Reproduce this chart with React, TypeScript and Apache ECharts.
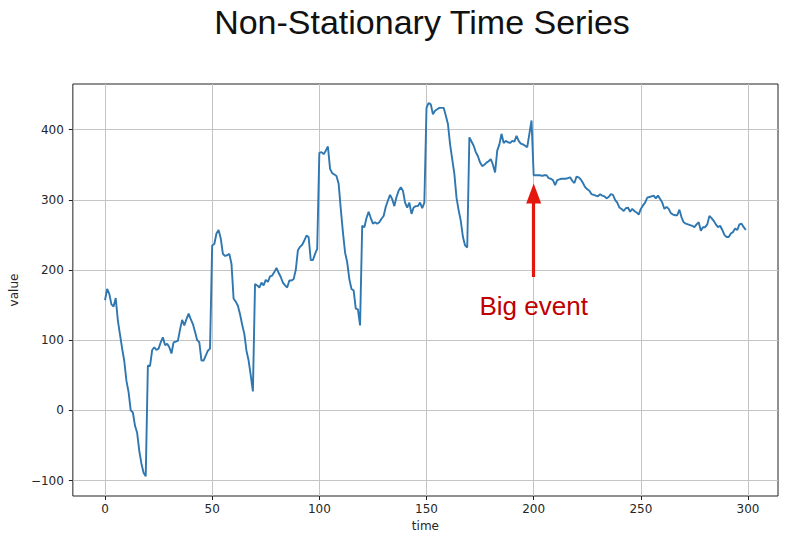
import React, { useEffect, useRef } from 'react';
import * as echarts from 'echarts';
import type { EChartsOption } from 'echarts';

// values, one per time step (0..299)
const values: number[] = [
  157, 173, 166, 151, 148, 160, 128, 108, 88, 70,
  42, 26, 0, -3, -22, -32, -58, -76, -89, -94,
  64, 63, 86, 90, 86, 88, 97, 104, 93, 95,
  90, 81, 97, 98, 99, 115, 129, 121, 130, 138,
  130, 123, 112, 100, 97, 71, 71, 78, 85, 88,
  235, 237, 252, 257, 245, 223, 220, 221, 223, 209,
  159, 155, 149, 137, 122, 109, 85, 71, 50, 27,
  180, 178, 175, 182, 178, 186, 183, 191, 192, 197,
  203, 196, 190, 182, 178, 175, 185, 185, 187, 200,
  228, 233, 236, 242, 249, 247, 214, 214, 223, 230,
  367, 368, 365, 370, 376, 344, 338, 336, 334, 323,
  287, 254, 225, 211, 187, 173, 171, 145, 144, 121,
  263, 261, 274, 283, 274, 266, 268, 266, 268, 273,
  277, 290, 299, 307, 301, 291, 304, 313, 318, 313,
  296, 289, 296, 280, 289, 291, 291, 296, 288, 296,
  431, 438, 436, 422, 427, 429, 431, 431, 431, 420,
  408, 379, 358, 337, 303, 285, 270, 247, 235, 232,
  389, 383, 377, 368, 362, 353, 348, 350, 353, 355,
  358, 350, 339, 370, 379, 394, 381, 384, 382, 381,
  384, 383, 391, 384, 380, 379, 377, 375, 394, 413,
  335, 335, 335, 335, 334, 335, 335, 331, 330, 328,
  321, 328, 329, 330, 330, 330, 331, 332, 327, 324,
  333, 332, 329, 324, 318, 315, 313, 308, 307, 306,
  305, 308, 306, 305, 302, 304, 308, 307, 300, 296,
  289, 287, 284, 288, 289, 283, 287, 284, 282, 279,
  287, 292, 296, 303, 304, 305, 306, 302, 306, 301,
  296, 287, 290, 287, 281, 279, 278, 278, 286, 275,
  268, 266, 265, 264, 263, 261, 265, 268, 256, 261,
  261, 265, 277, 274, 270, 265, 261, 263, 257, 250,
  247, 247, 252, 254, 259, 257, 265, 266, 261, 257,
];
const times: number[] = values.map((_, i) => i);

const xTicks = [0, 50, 100, 150, 200, 250, 300];
const yTicks = [-100, 0, 100, 200, 300, 400];

const eventTime = 200;
const eventFrom = 190; // arrow tail (value units)
const eventTo = 309; // arrow head centre
const eventLabel = 'Big event';

const tickFont = { fontFamily: 'DejaVu Sans', fontSize: 12, color: '#262626' };

const App: React.FC = () => {
  const chartRef = useRef<HTMLDivElement>(null);

  useEffect(() => {
    if (!chartRef.current) return;
    const chart = echarts.init(chartRef.current, undefined, { renderer: 'svg' });

    const option: EChartsOption = {
      animation: false,
      backgroundColor: '#ffffff',
      graphic: [
        {
          type: 'text',
          x: 422,
          y: 22,
          style: {
            text: 'Non-Stationary Time Series',
            fontFamily: 'Liberation Sans',
            fontSize: 34,
            fill: '#111',
            textAlign: 'center',
            textVerticalAlign: 'middle',
          },
        },
      ],
      grid: {
        left: 72,
        right: 22,
        top: 84,
        bottom: 42,
        show: true,
        borderColor: '#222',
        borderWidth: 1,
        backgroundColor: '#fff',
      },
      xAxis: {
        type: 'value',
        min: -15,
        max: 314,
        name: 'time',
        nameLocation: 'middle',
        nameGap: 24,
        nameTextStyle: { ...tickFont },
        axisLine: { show: false, onZero: false },
        axisTick: { show: true, customValues: xTicks, length: 4, lineStyle: { color: '#222' } },
        axisLabel: { ...tickFont, customValues: xTicks, margin: 7 },
        splitLine: { show: true, lineStyle: { color: '#c4c4c4', width: 1 } },
      },
      yAxis: {
        type: 'value',
        min: -122,
        max: 465,
        name: 'value',
        nameLocation: 'middle',
        nameGap: 52,
        nameRotate: 90,
        nameTextStyle: { ...tickFont },
        axisLine: { show: false, onZero: false },
        axisTick: { show: true, customValues: yTicks, length: 4, lineStyle: { color: '#222' } },
        axisLabel: {
          ...tickFont,
          customValues: yTicks,
          margin: 9,
          formatter: (v: number) => (v < 0 ? '\u2212' + Math.abs(v) : String(v)),
        },
        splitLine: { show: true, lineStyle: { color: '#c4c4c4', width: 1 } },
      },
      series: [
        {
          type: 'line',
          data: times.map((t, i) => [t, values[i]]),
          showSymbol: false,
          lineStyle: { color: '#2f77b0', width: 1.9 },
          silent: true,
          markLine: {
            silent: true,
            symbol: ['none', 'triangle'],
            symbolSize: [15, 20],
            lineStyle: { color: '#e3170e', width: 3.2, type: 'solid' },
            itemStyle: { color: '#e3170e' },
            label: {
              show: true,
              position: 'start',
              formatter: eventLabel,
              fontFamily: 'Liberation Sans',
              fontSize: 26,
              color: '#c00000',
              distance: 16,
            },
            data: [
              [
                { coord: [eventTime, eventFrom] },
                { coord: [eventTime, eventTo] },
              ],
            ],
          },
        },
      ],
    };

    chart.setOption(option);
    return () => {
      chart.dispose();
    };
  }, []);

  return (
    <div
      ref={chartRef}
      style={{ position: 'absolute', left: 0, top: 0, width: '800px', height: '538px' }}
    />
  );
};

export default App;
